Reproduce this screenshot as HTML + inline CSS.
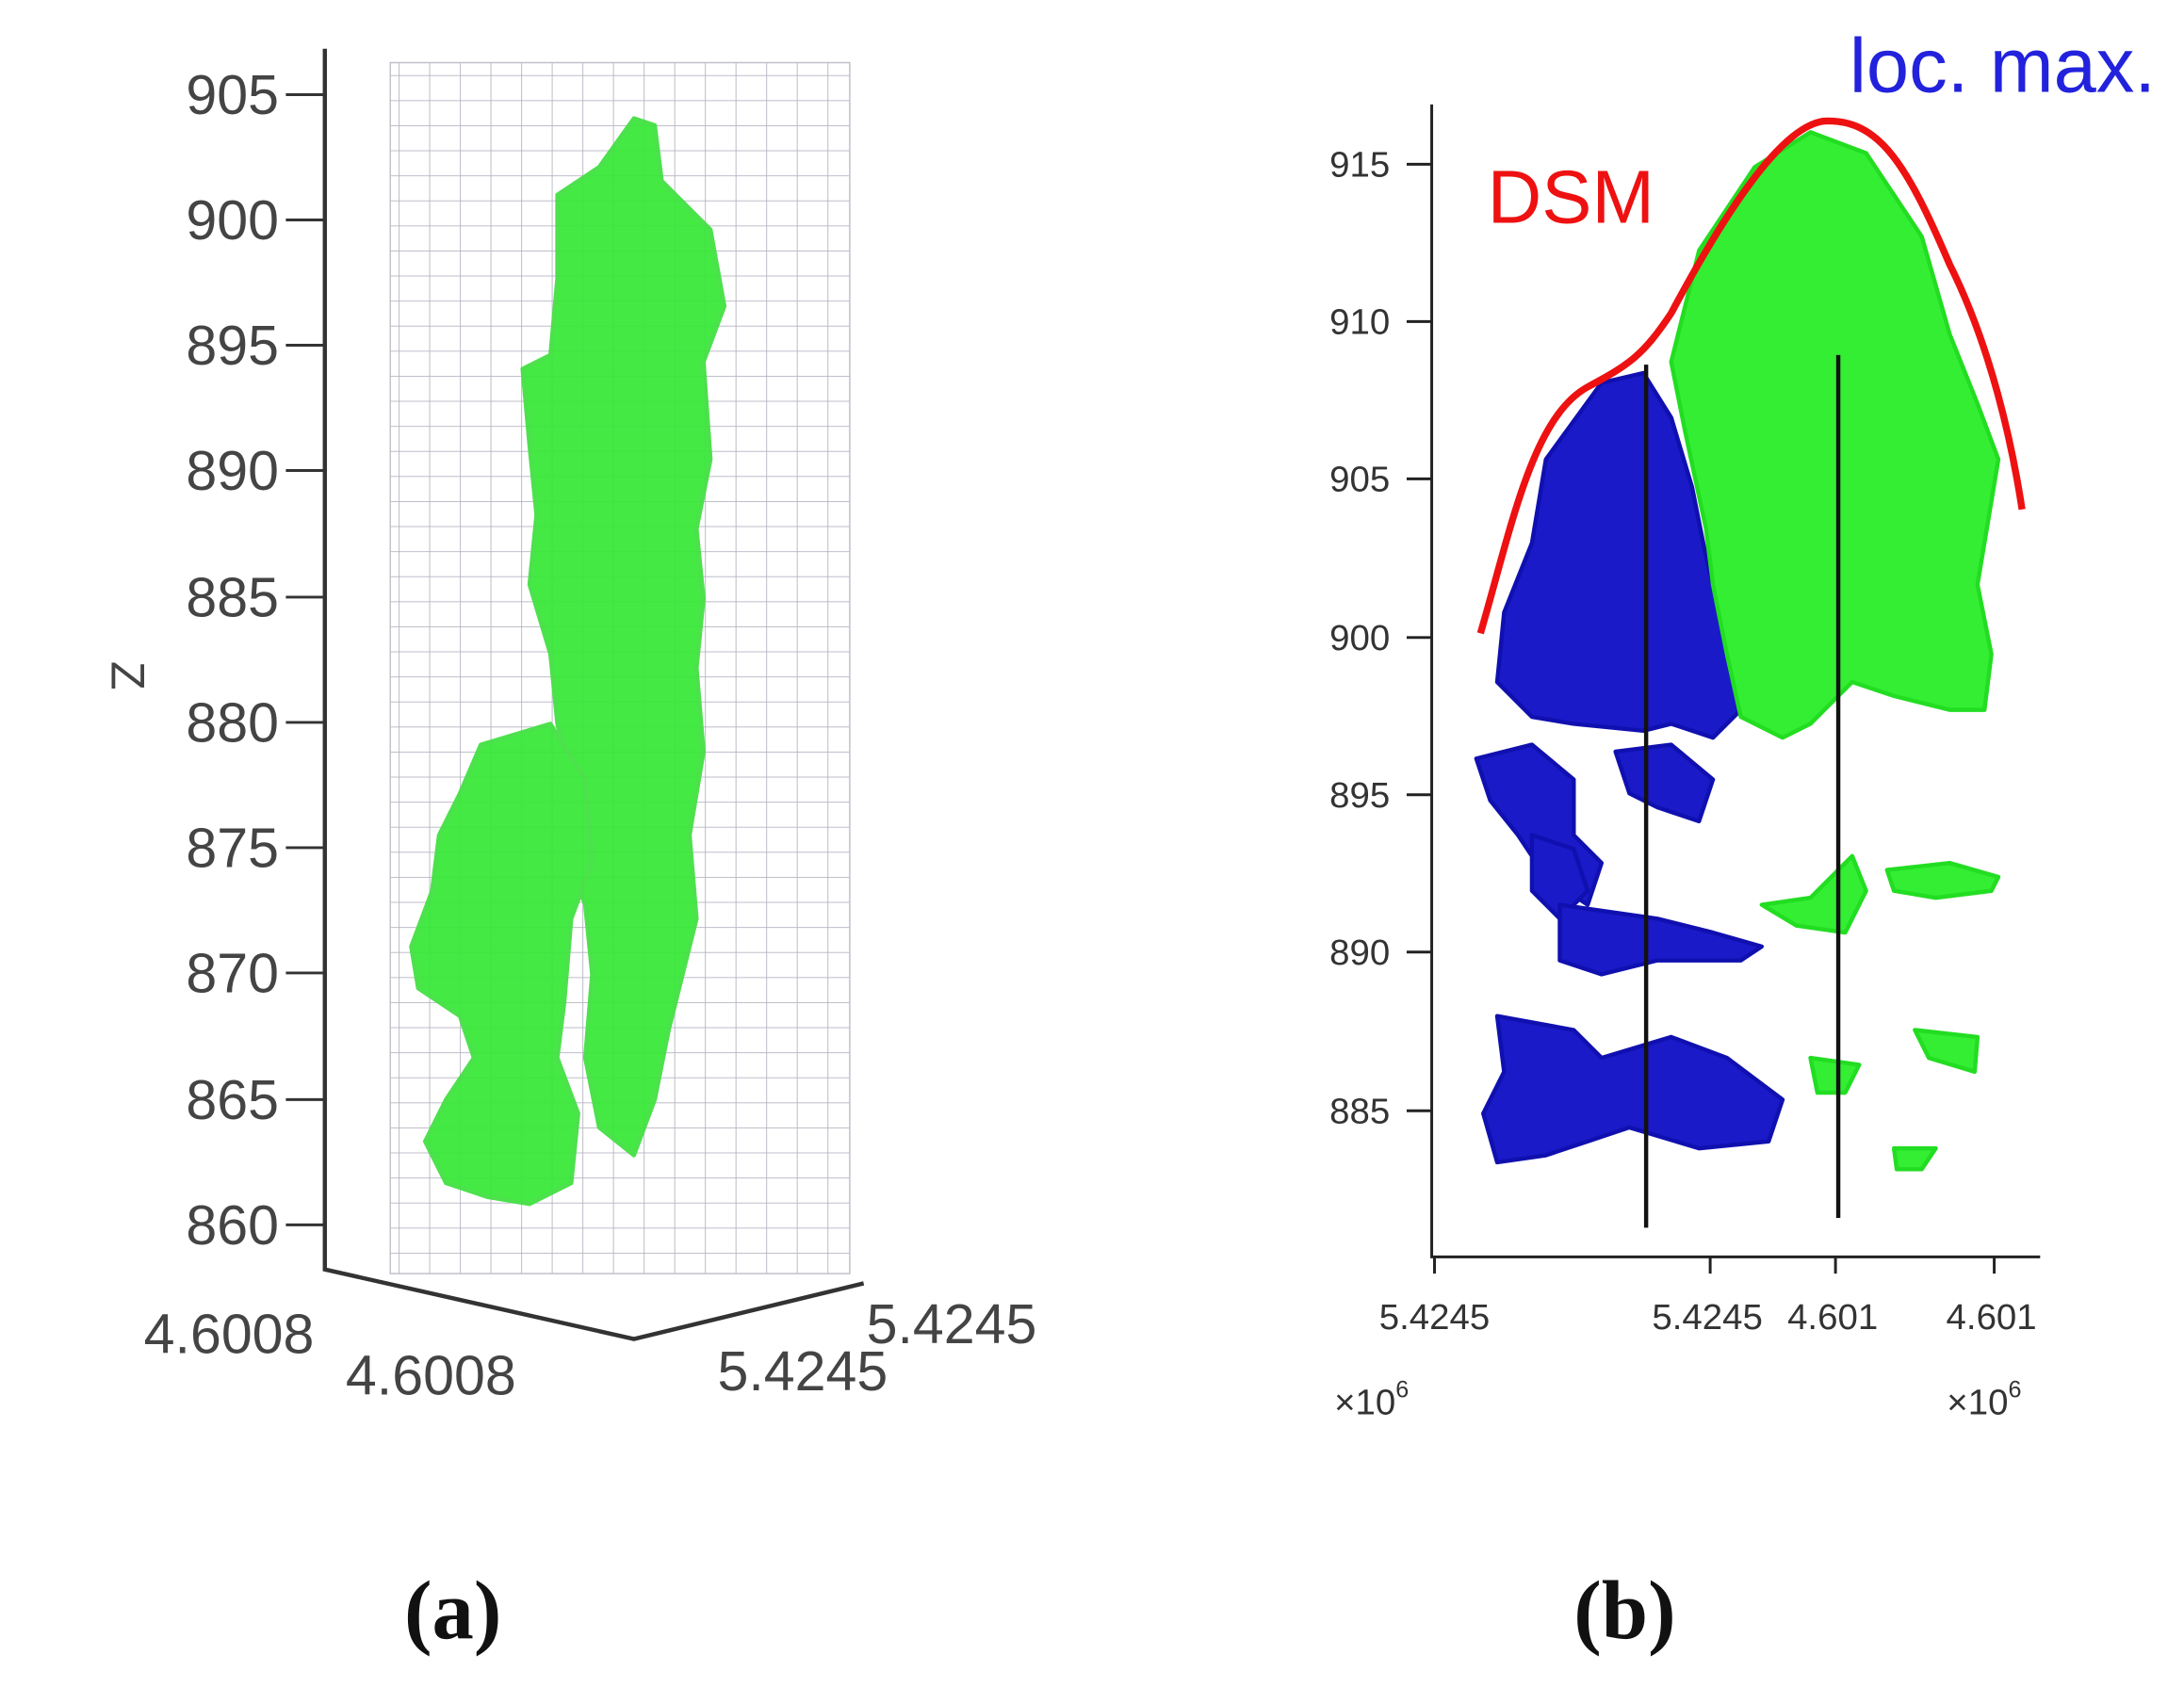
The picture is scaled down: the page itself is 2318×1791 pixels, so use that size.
<!DOCTYPE html>
<html><head><meta charset="utf-8"><style>
html,body{margin:0;padding:0;background:#fff;}
svg{display:block;}
.s{font-family:"Liberation Sans",Arial,sans-serif;}
.r{font-family:"Liberation Serif","Times New Roman",serif;}
</style></head><body>
<svg width="2318" height="1791" viewBox="0 0 1568 1212" xmlns="http://www.w3.org/2000/svg">
<defs>
<pattern id="grid" width="22" height="18" patternUnits="userSpaceOnUse">
<path d="M0 0H22M0 0V18" stroke="#b4b4c2" stroke-width="1.2" fill="none"/>
</pattern>
</defs>
<!-- Panel a -->
<rect x="280" y="45" width="330" height="870" fill="url(#grid)"/>
<rect x="280" y="45" width="330" height="870" fill="none" stroke="#c0c0cc"/>
<g fill="#3ae83a" stroke="#44e044" stroke-width="3" stroke-linejoin="round" opacity="0.95">
<polygon points="455,85 470,90 475,130 510,165 520,220 505,260 510,330 500,380 505,430 500,480 505,540 495,600 500,660 490,700 480,740 470,790 455,830 430,810 420,760 425,700 420,650 405,610 410,560 400,520 395,470 380,420 385,370 380,320 375,265 395,255 400,200 400,140 430,120"/>
<polygon points="345,535 395,520 420,560 425,620 410,660 405,720 400,760 415,800 410,850 380,865 350,860 320,850 305,820 320,790 340,760 330,730 300,710 295,680 310,640 315,600 330,570"/>
</g>
<g stroke="#333" stroke-width="3" fill="none">
<path d="M233 35V912L455 962L620 922"/>
</g>
<g stroke="#333" stroke-width="2">
<path d="M205 68H233M205 158H233M205 248H233M205 338H233M205 429H233M205 519H233M205 609H233M205 699H233M205 790H233M205 880H233"/>
</g>
<g class="s" font-size="40" fill="#444" text-anchor="end">
<text x="200" y="82">905</text><text x="200" y="172">900</text><text x="200" y="262">895</text>
<text x="200" y="352">890</text><text x="200" y="443">885</text><text x="200" y="533">880</text>
<text x="200" y="623">875</text><text x="200" y="713">870</text><text x="200" y="804">865</text>
<text x="200" y="894">860</text>
</g>
<text class="s" x="70" y="485" font-size="34" fill="#444" transform="rotate(90 80 485)">Z</text>
<g class="s" font-size="40" fill="#444">
<text x="103" y="972">4.6008</text><text x="248" y="1002">4.6008</text>
<text x="622" y="965">5.4245</text><text x="515" y="999">5.4245</text>
</g>
<!-- Panel b -->
<g fill="#1a1ac8" stroke="#1010b0" stroke-width="3" stroke-linejoin="round">
<polygon points="1150,275 1180,268 1200,300 1215,350 1225,400 1240,460 1250,510 1230,530 1200,520 1180,525 1130,520 1100,515 1075,490 1080,440 1100,390 1110,330"/>
<polygon points="1060,545 1100,535 1130,560 1130,600 1150,620 1140,650 1110,630 1090,600 1070,575"/>
<polygon points="1100,600 1130,610 1140,640 1120,660 1100,640"/>
<polygon points="1120,650 1190,660 1230,670 1265,680 1250,690 1190,690 1150,700 1120,690"/>
<polygon points="1075,730 1130,740 1150,760 1200,745 1240,760 1280,790 1270,820 1220,825 1170,810 1140,820 1110,830 1075,835 1065,800 1080,770"/>
<polygon points="1160,540 1200,535 1230,560 1220,590 1190,580 1170,570"/>
</g>
<g fill="#33ee33" stroke="#22dd22" stroke-width="3" stroke-linejoin="round">
<polygon points="1300,95 1340,110 1380,170 1400,240 1420,290 1435,330 1420,420 1430,470 1425,510 1400,510 1360,500 1330,490 1300,520 1280,530 1250,515 1240,470 1230,420 1225,380 1210,310 1200,260 1220,180 1260,120"/>
<polygon points="1265,650 1300,645 1330,615 1340,640 1325,670 1290,665"/>
<polygon points="1355,625 1400,620 1435,630 1430,640 1390,645 1360,640"/>
<polygon points="1375,740 1420,745 1418,770 1385,760"/>
<polygon points="1300,760 1335,765 1325,785 1305,785"/>
<polygon points="1360,825 1390,825 1380,840 1362,840"/>
</g>
<g stroke="#111" stroke-width="3">
<path d="M1182 262V882M1320 255V875"/>
</g>
<path d="M1063 455C1085 380 1100 300 1140 278C1170 262 1180 255 1200 225C1240 150 1280 90 1310 87C1350 85 1370 120 1400 190C1430 250 1445 320 1452 366" fill="none" stroke="#ee1111" stroke-width="5"/>
<g stroke="#222" stroke-width="2" fill="none">
<path d="M1028 75V903H1465"/>
<path d="M1010 118H1028M1010 231H1028M1010 344H1028M1010 458H1028M1010 571H1028M1010 684H1028M1010 798H1028"/>
<path d="M1030 903V915M1228 903V915M1318 903V915M1432 903V915"/>
</g>
<g class="s" font-size="26" fill="#333" text-anchor="end">
<text x="998" y="127">915</text><text x="998" y="240">910</text><text x="998" y="353">905</text>
<text x="998" y="467">900</text><text x="998" y="580">895</text><text x="998" y="693">890</text>
<text x="998" y="807">885</text>
</g>
<g class="s" font-size="26" fill="#333" text-anchor="middle">
<text x="1030" y="955">5.4245</text><text x="1226" y="955">5.4245</text>
<text x="1316" y="955">4.601</text><text x="1430" y="955">4.601</text>
</g>
<g class="s" font-size="26" fill="#333">
<text x="958" y="1016">×10<tspan font-size="17" dy="-12">6</tspan></text>
<text x="1398" y="1016">×10<tspan font-size="17" dy="-12">6</tspan></text>
</g>
<text class="s" x="1068" y="160" font-size="54" fill="#ee1111">DSM</text>
<text class="s" x="1328" y="66" font-size="55" fill="#2222dd">loc. max.</text>
<g class="r" font-size="60" font-weight="bold" fill="#111">
<text x="290" y="1177">(a)</text><text x="1130" y="1177">(b)</text>
</g>
</svg>
</body></html>
